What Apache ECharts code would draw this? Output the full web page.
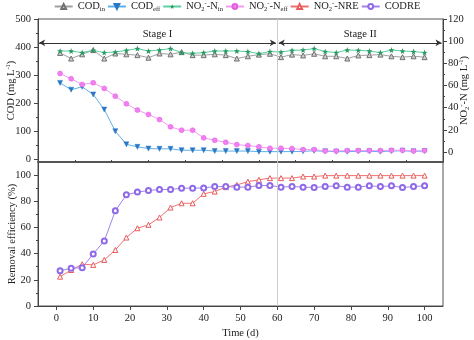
<!DOCTYPE html>
<html><head><meta charset="utf-8">
<script src="https://cdn.jsdelivr.net/npm/echarts@6/dist/echarts.min.js"></script>
<style>html,body{margin:0;padding:0;background:#fff}#c{width:474px;height:340px}</style>
</head><body><div id="c"></div>
<script>
// ---- data ----
const days = [1,4,7,10,13,16,19,22,25,28,31,34,37,40,43,46,49,52,55,58,61,64,67,70,73,76,79,82,85,88,91,94,97,100];
const codIn  = [379,359,374,389,359,377,374,371,362,377,374,382,371,371,374,371,359, 367,373,376,364,373,370,376,367,367,359,370,371,373,367,364,367,364];
const codEff = [272,248,258,231,177,100,53,44,38,37,37,32,32,32,29,29,29, 29,27,27,27,27,28,30,28,27,27,28,28,27,29,30,28,29];
const no2In  = [91.1,91.1,89.7,91.7,89.7,90.2,91.7,93.3,91.1,92,93.3,89.7,89,89.7,91.1,91.1,91.1, 90.6,88.8,90.6,90.2,91.7,92,93.3,90.6,89.7,92,91.7,91.1,89.7,92,91.1,90.6,89.7];
const no2Eff = [70.9,66.1,61,62.5,57.4,50.4,43.5,37.8,33.9,29.3,22.7,19.7,19.7,12.8,10.6,8.8,6.7, 5.8,4.7,3.4,3.4,3.1,2.2,2.2,1.0,1.0,1.3,1.3,1.3,1.3,1.6,1.6,1.0,1.3];
const no2RE  = [22.4,27.5,31.9,31.4,35.2,42.8,52.3,59.4,62,67.6,75.2,78.5,78.5,85.7,87.4,90.8,92.5, 95,96.4,97.7,97.7,97.7,98.9,98.9,99.6,99.6,99.6,99.6,99.6,99.6,99.6,99.6,99.6,99.6];
const codRE  = [27,28.8,29.3,39.8,49.7,72.7,84.9,87,88.2,89,89,90,90,90.2,91.2,91.2,90.8, 90.8,92,92,90.8,91.2,90.8,90.5,91.2,91.8,90.8,90.8,91.8,91.2,91.8,90.5,91.2,91.8];

const codTicks = [0,100,200,300,400,500];
const codMinor = [50,150,250,350,450];
const no2Ticks = [0,20,40,60,80,100,120];
const no2Minor = [10,30,50,70,90,110];
const reTicks = [0,20,40,60,80,100];
const reMinor = [10,30,50,70,90];
const timeTicks = [0,10,20,30,40,50,60,70,80,90,100];
const timeMinor = [5,15,25,35,45,55,65,75,85,95];
const stageLabels = ['Stage I','Stage II'];
const stageY = 415, stageSplit = 60;

const seriesNames = ['COD_in','COD_eff','NO2-N_in','NO2-N_eff','NO2-NRE','CODRE'];
const legendRich = {
  'COD_in': '{b|COD}{s|in}',
  'COD_eff': '{b|COD}{s|eff}',
  'NO2-N_in': '{b|NO}{s|2}{p|-}{b|-N}{s|in}',
  'NO2-N_eff': '{b|NO}{s|2}{p|-}{b|-N}{s|eff}',
  'NO2-NRE': '{b|NO}{s|2}{p|-}{b|-NRE}',
  'CODRE': '{b|CODRE}'
};

const FF = 'Liberation Serif';
const pair = arr => days.map((d,i)=>[d,arr[i]]);
const star = 'path://M0,-10 L2.35,-3.24 L9.51,-3.09 L3.8,1.24 L5.88,8.09 L0,4 L-5.88,8.09 L-3.8,1.24 L-9.51,-3.09 L-2.35,-3.24 Z';
const richStyle = {
  b: {fontFamily: FF, fontSize: 10.5, color: '#222', lineHeight: 13},
  s: {fontFamily: FF, fontSize: 6.5, color: '#222', verticalAlign: 'bottom', lineHeight: 7},
  p: {fontFamily: FF, fontSize: 6.5, color: '#222', verticalAlign: 'top', lineHeight: 7}
};
const axisCol = '#444';
const lblStyle = {fontFamily: FF, fontSize: 10.5, color: '#222'};

const chart = echarts.init(document.getElementById('c'), null, {renderer: 'canvas'});
const minorAxis = (extra) => Object.assign({
  type: 'value', offset: 0, axisLine: {show: false, onZero: false}, axisLabel: {show: false}, splitLine: {show: false}
}, extra);

const option = {
  animation: false,
  backgroundColor: '#fff',
  textStyle: {fontFamily: FF},
  legend: {
    top: 0, left: 'center', padding: [0, 5], itemWidth: 18, itemHeight: 6, itemGap: 2,
    data: seriesNames,
    formatter: n => legendRich[n],
    textStyle: {fontFamily: FF, fontSize: 10.5, color: '#222', rich: richStyle}
  },
  grid: [
    {left: 38, right: 31, top: 19, height: 143, show: true, borderColor: '#555', borderWidth: 1, backgroundColor: 'transparent', outerBoundsMode: 'none', containLabel: false},
    {left: 38, right: 31, top: 162, height: 144, show: true, borderColor: '#555', borderWidth: 1, backgroundColor: 'transparent', outerBoundsMode: 'none', containLabel: false}
  ],
  xAxis: [
    {gridIndex: 0, type: 'value', min: -5, max: 105, axisLine: {show: true, onZero: false, lineStyle: {color: '#555', width: 2}}, axisTick: {show: false}, axisLabel: {show: false}, splitLine: {show: false}},
    {gridIndex: 1, type: 'value', min: -5, max: 105, axisLine: {show: true, onZero: false, lineStyle: {color: axisCol}},
      axisTick: {show: true, length: 4, customValues: timeTicks, lineStyle: {color: axisCol}},
      axisLabel: {customValues: timeTicks, margin: 7, ...lblStyle}, splitLine: {show: false},
      name: 'Time (d)', nameLocation: 'middle', nameGap: 22, nameMoveOverlap: false, nameTextStyle: lblStyle},
    minorAxis({gridIndex: 1, min: -5, max: 105, axisTick: {show: true, length: 2, customValues: timeMinor, lineStyle: {color: axisCol}}})
  ],
  yAxis: [
    {gridIndex: 0, type: 'value', position: 'left', min: -10, max: 500,
      axisLine: {show: true, onZero: false, lineStyle: {color: axisCol}},
      axisTick: {show: true, length: 4, customValues: codTicks, lineStyle: {color: axisCol}},
      axisLabel: {customValues: codTicks, margin: 7, ...lblStyle}, splitLine: {show: false},
      name: '{b|COD (mg L}{p|-1}{b|)}', nameLocation: 'middle', nameGap: 20, nameRotate: 90, nameMoveOverlap: false,
      nameTextStyle: {...lblStyle, rich: richStyle}},
    {gridIndex: 0, type: 'value', position: 'right', min: -9, max: 120,
      axisLine: {show: true, onZero: false, lineStyle: {color: axisCol}},
      axisTick: {show: true, length: 4, customValues: no2Ticks, lineStyle: {color: axisCol}},
      axisLabel: {customValues: no2Ticks, margin: 5, ...lblStyle}, splitLine: {show: false},
      name: '{b|NO}{s|2}{p|-}{b|-N (mg L}{p|-1}{b|)}', nameLocation: 'middle', nameGap: 15, nameRotate: 90, nameMoveOverlap: false,
      nameTextStyle: {...lblStyle, rich: richStyle}},
    minorAxis({gridIndex: 0, position: 'left', min: -10, max: 500, axisTick: {show: true, length: 2, customValues: codMinor, lineStyle: {color: axisCol}}}),
    minorAxis({gridIndex: 0, position: 'right', min: -9, max: 120, axisTick: {show: true, length: 2, customValues: no2Minor, lineStyle: {color: axisCol}}}),
    {gridIndex: 1, type: 'value', position: 'left', min: 0, max: 110,
      axisLine: {show: true, onZero: false, lineStyle: {color: axisCol}},
      axisTick: {show: true, length: 4, customValues: reTicks, lineStyle: {color: axisCol}},
      axisLabel: {customValues: reTicks, margin: 7, ...lblStyle}, splitLine: {show: false},
      name: 'Removal efficiency (%)', nameLocation: 'middle', nameGap: 20, nameRotate: 90, nameMoveOverlap: false, nameTextStyle: lblStyle},
    minorAxis({gridIndex: 1, position: 'left', min: 0, max: 110, axisTick: {show: true, length: 2, customValues: reMinor, lineStyle: {color: axisCol}}})
  ],
  series: [
    {name: 'COD_in', type: 'line', xAxisIndex: 0, yAxisIndex: 0, data: pair(codIn),
      symbol: 'triangle', symbolSize: 5, lineStyle: {color: '#a0a0a0', width: 1},
      itemStyle: {color: '#cfcfcf', borderColor: '#707070', borderWidth: 1},
      markLine: {silent: true, symbol: 'none', label: {show: false},
        data: [
          {xAxis: stageSplit, lineStyle: {color: '#cccccc', width: 1, type: 'solid'}},
          [{coord: [-4.7, stageY], symbol: 'arrow', symbolSize: [5,6]}, {coord: [59.6, stageY], symbol: 'arrow', symbolSize: [5,6]}],
          [{coord: [60.4, stageY], symbol: 'arrow', symbolSize: [5,6]}, {coord: [104.6, stageY], symbol: 'arrow', symbolSize: [5,6]}]
        ].map((d, i) => {
          if (i === 0) return d;
          d[0].lineStyle = {color: '#333', width: 1, type: 'solid'};
          d[0].label = {show: true, formatter: stageLabels[i-1], position: 'middle', distance: 3, fontFamily: FF, fontSize: 10.5, color: '#222'};
          return d;
        })
      }},
    {name: 'COD_eff', type: 'line', xAxisIndex: 0, yAxisIndex: 0, data: pair(codEff),
      symbol: 'triangle', symbolRotate: 180, symbolSize: 5, lineStyle: {color: '#5fb0ea', width: 1},
      itemStyle: {color: '#2a78c4', borderColor: '#2a78c4', borderWidth: 0.5}},
    {name: 'NO2-N_in', type: 'line', xAxisIndex: 0, yAxisIndex: 1, data: pair(no2In),
      symbol: star, symbolSize: 6, lineStyle: {color: '#5ccfa3', width: 1},
      itemStyle: {color: '#2a9a60', borderColor: '#2a9a60', borderWidth: 0}},
    {name: 'NO2-N_eff', type: 'line', xAxisIndex: 0, yAxisIndex: 1, data: pair(no2Eff),
      symbol: 'circle', symbolSize: 5, lineStyle: {color: '#f59af5', width: 1},
      itemStyle: {color: '#f27ff2', borderColor: '#e060e0', borderWidth: 0.5}},
    {name: 'NO2-NRE', type: 'line', xAxisIndex: 1, yAxisIndex: 4, data: pair(no2RE),
      symbol: 'triangle', symbolSize: 5, lineStyle: {color: '#f07070', width: 1},
      itemStyle: {color: '#ffffff', borderColor: '#e85a5a', borderWidth: 1}},
    {name: 'CODRE', type: 'line', xAxisIndex: 1, yAxisIndex: 4, data: pair(codRE),
      symbol: 'emptyCircle', symbolSize: 5, lineStyle: {color: '#a283f0', width: 1},
      itemStyle: {color: '#8f6ae8', borderColor: '#8f6ae8', borderWidth: 1},
      markLine: {silent: true, symbol: 'none', label: {show: false},
        data: [{xAxis: stageSplit, lineStyle: {color: '#cccccc', width: 1, type: 'solid'}}]}}
  ]
};
chart.setOption(option);
</script></body></html>
